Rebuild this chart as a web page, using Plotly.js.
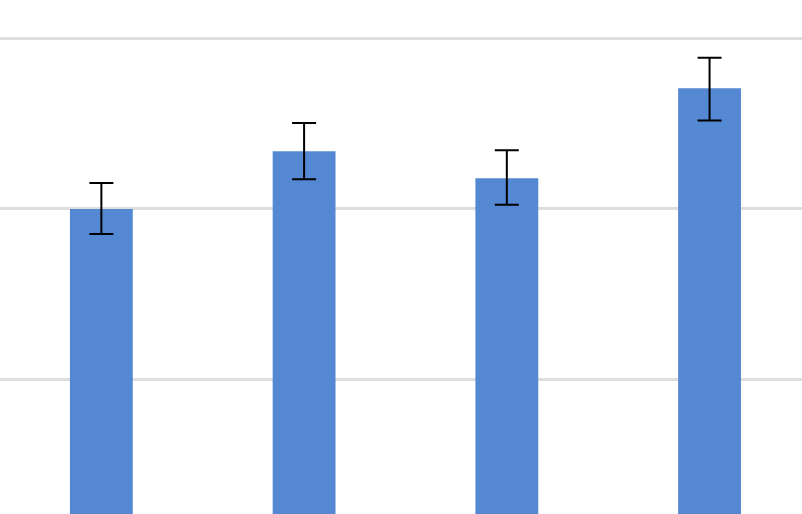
<!DOCTYPE html>
<html>
<head>
<meta charset="utf-8">
<script src="https://cdn.plot.ly/plotly-3.0.1.min.js"></script>
<style>html,body{margin:0;padding:0;background:#fff;}#chart{width:802px;height:514px;}</style>
</head>
<body>
<div id="chart"></div>
<script>
const categories = ["A", "B", "C", "D"];
const values = [2.00, 2.34, 2.18, 2.71];
const errPlus = [0.153, 0.165, 0.165, 0.18];
const errMinus = [0.147, 0.165, 0.155, 0.19];
const gridValues = [1, 2, 3];

const trace = {
  type: 'bar',
  x: categories,
  y: values,
  width: 0.31,
  marker: {color: '#5588D2'},
  error_y: {
    type: 'data',
    symmetric: false,
    array: errPlus,
    arrayminus: errMinus,
    color: '#000000',
    thickness: 2,
    width: 12
  },
  hoverinfo: 'none'
};

const layout = {
  width: 802,
  height: 514,
  margin: {l: 0, r: 0, t: 0, b: 0},
  paper_bgcolor: '#ffffff',
  plot_bgcolor: '#ffffff',
  showlegend: false,
  xaxis: {
    type: 'category',
    range: [-0.5, 3.456],
    showgrid: false,
    showticklabels: false,
    zeroline: false,
    showline: false,
    ticks: ''
  },
  yaxis: {
    range: [0.206, 3.229],
    tickmode: 'array',
    tickvals: gridValues,
    showticklabels: false,
    showgrid: true,
    gridcolor: '#DEDEDE',
    gridwidth: 3,
    zeroline: false,
    showline: false,
    ticks: ''
  }
};

Plotly.newPlot('chart', [trace], layout, {displayModeBar: false, staticPlot: true});
</script>
</body>
</html>
